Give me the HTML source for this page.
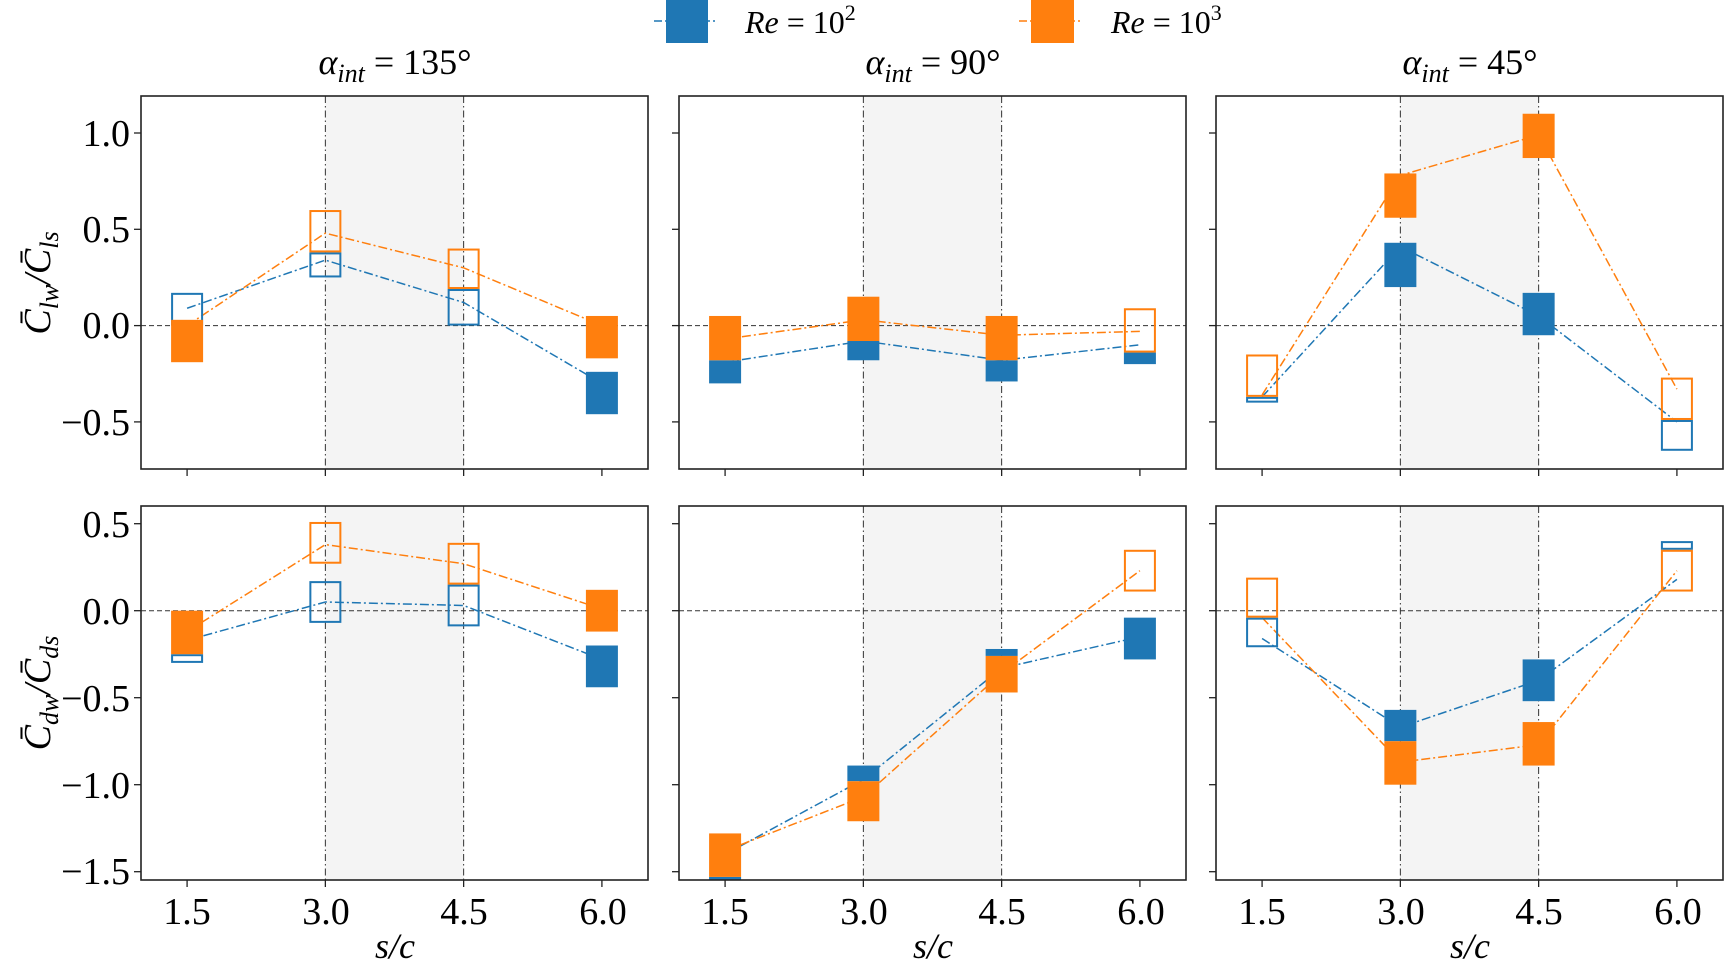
<!DOCTYPE html>
<html><head><meta charset="utf-8"><style>
html,body{margin:0;padding:0;background:#fff;}
svg{display:block;}
text{font-family:"Liberation Serif","DejaVu Serif",serif;fill:#000;}
</style></head><body>
<svg id="s" width="1725" height="960" viewBox="0 0 1725 960" xmlns="http://www.w3.org/2000/svg">
<g id="g"></g>
<!-- legend -->
<line x1="654" y1="21" x2="717" y2="21" stroke="#1f77b4" stroke-width="1.5" stroke-dasharray="8,3,2,3"/>
<rect x="666" y="0" width="42" height="43" fill="#1f77b4"/>
<text x="745" y="33" font-size="32"><tspan font-style="italic">Re</tspan> = 10<tspan font-size="22" dy="-13">2</tspan></text>
<line x1="1019" y1="21" x2="1082" y2="21" stroke="#ff7f0e" stroke-width="1.5" stroke-dasharray="8,3,2,3"/>
<rect x="1031" y="0" width="43" height="43" fill="#ff7f0e"/>
<text x="1111" y="33" font-size="32"><tspan font-style="italic">Re</tspan> = 10<tspan font-size="22" dy="-13">3</tspan></text>
<!-- titles -->
<text x="395" y="74" font-size="36" text-anchor="middle"><tspan font-style="italic">α<tspan font-size="26" dy="8">int</tspan></tspan><tspan dy="-8"> = 135°</tspan></text>
<text x="933" y="74" font-size="36" text-anchor="middle"><tspan font-style="italic">α<tspan font-size="26" dy="8">int</tspan></tspan><tspan dy="-8"> = 90°</tspan></text>
<text x="1470" y="74" font-size="36" text-anchor="middle"><tspan font-style="italic">α<tspan font-size="26" dy="8">int</tspan></tspan><tspan dy="-8"> = 45°</tspan></text>
<!-- y tick labels top -->
<g font-size="38" text-anchor="end">
<text x="130" y="146">1.0</text><text x="130" y="242">0.5</text><text x="130" y="338">0.0</text><text x="130" y="435">−0.5</text>
<text x="130" y="537">0.5</text><text x="130" y="624">0.0</text><text x="130" y="711">−0.5</text><text x="130" y="798">−1.0</text><text x="130" y="884">−1.5</text>
</g>
<!-- x tick labels -->
<g font-size="38" text-anchor="middle" id="xl">
<text x="187" y="924">1.5</text><text x="326" y="924">3.0</text><text x="464" y="924">4.5</text><text x="603" y="924">6.0</text>
<text x="725" y="924">1.5</text><text x="864" y="924">3.0</text><text x="1002" y="924">4.5</text><text x="1141" y="924">6.0</text>
<text x="1262" y="924">1.5</text><text x="1401" y="924">3.0</text><text x="1539" y="924">4.5</text><text x="1678" y="924">6.0</text>
</g>
<g font-size="36" text-anchor="middle" font-style="italic">
<text x="395" y="958">s/c</text><text x="933" y="958">s/c</text><text x="1470" y="958">s/c</text>
</g>
<text transform="translate(50,283) rotate(-90)" font-size="38" text-anchor="middle" font-style="italic">C̄<tspan font-size="26" dy="8">lw</tspan><tspan dy="-8">/C̄</tspan><tspan font-size="26" dy="8">ls</tspan></text>
<text transform="translate(50,693) rotate(-90)" font-size="38" text-anchor="middle" font-style="italic">C̄<tspan font-size="26" dy="8">dw</tspan><tspan dy="-8">/C̄</tspan><tspan font-size="26" dy="8">ds</tspan></text>
</svg>
<script>
var B="#1f77b4",O="#ff7f0e";
var cols=[141,679,1216],W=507;
var rows=[{t:96,b:469,y0:325.6,k:192.6},{t:506,b:880,y0:610.7,k:174}];
var h='';
function X(c,v){return cols[c]+(v-1)*W/5.5;}
// [row,col, lines{b:[],o:[]}, boxes [x,top,bot,color,filled]]
var P=[
[0,0,[.09,.34,.12,-.3],[0,.48,.3,0],[[1.5,.17,0,B,0],[3,.38,.25,B,0],[4.5,.19,0,B,0],[6,-.24,-.46,B,1],[1.5,.03,-.19,O,1],[3,.6,.38,O,0],[4.5,.4,.19,O,0],[6,.05,-.17,O,1]]],
[0,1,[-.19,-.08,-.18,-.1],[-.07,.03,-.05,-.03],[[1.5,-.18,-.3,B,1],[3,-.08,-.18,B,1],[4.5,-.18,-.29,B,1],[6,-.14,-.2,B,1],[1.5,.05,-.18,O,1],[3,.15,-.08,O,1],[4.5,.05,-.18,O,1],[6,.09,-.14,O,0]]],
[0,2,[-.37,.41,.05,-.5],[-.36,.78,.99,-.33],[[1.5,-.37,-.4,B,0],[3,.43,.2,B,1],[4.5,.17,-.05,B,1],[6,-.49,-.65,B,0],[1.5,-.15,-.37,O,0],[3,.79,.56,O,1],[4.5,1.1,.87,O,1],[6,-.27,-.49,O,0]]],
[1,0,[-.17,.05,.03,-.28],[-.12,.38,.27,.01],[[1.5,-.25,-.3,B,0],[3,.17,-.07,B,0],[4.5,.15,-.09,B,0],[6,-.2,-.44,B,1],[1.5,0,-.25,O,1],[3,.51,.27,O,0],[4.5,.39,.15,O,0],[6,.12,-.12,O,1]]],
[1,1,[-1.4,-.97,-.33,-.15],[-1.38,-1.07,-.36,.23],[[1.5,-1.53,-1.55,B,1],[3,-.89,-.98,B,1],[4.5,-.22,-.26,B,1],[6,-.04,-.28,B,1],[1.5,-1.28,-1.53,O,1],[3,-.98,-1.21,O,1],[4.5,-.26,-.47,O,1],[6,.35,.11,O,0]]],
[1,2,[-.16,-.67,-.4,.18],[-.04,-.87,-.77,.23],[[1.5,-.04,-.21,B,0],[3,-.57,-.75,B,1],[4.5,-.28,-.52,B,1],[6,.4,.35,B,0],[1.5,.19,-.04,O,0],[3,-.75,-1,O,1],[4.5,-.64,-.89,O,1],[6,.35,.11,O,0]]]
];
var xs=[1.5,3,4.5,6];
P.forEach(function(p){
 var r=rows[p[0]],c=p[1];function Y(v){return r.y0-v*r.k;}
 h+='<rect x="'+X(c,3)+'" y="'+r.t+'" width="'+(X(c,4.5)-X(c,3))+'" height="'+(r.b-r.t)+'" fill="#f4f4f4"/>';
 [3,4.5].forEach(function(v){h+='<line x1="'+X(c,v)+'" x2="'+X(c,v)+'" y1="'+r.t+'" y2="'+r.b+'" stroke="#333" stroke-width="1" stroke-dasharray="7,3,1.5,3"/>';});
 h+='<line x1="'+cols[c]+'" x2="'+(cols[c]+W)+'" y1="'+r.y0+'" y2="'+r.y0+'" stroke="#333" stroke-width="1" stroke-dasharray="5,3"/>';
 [[p[2],B],[p[3],O]].forEach(function(s){h+='<polyline fill="none" stroke="'+s[1]+'" stroke-width="1.5" stroke-dasharray="9,3,2,3" points="'+xs.map(function(x,i){return X(c,x)+','+Y(s[0][i]);}).join(' ')+'"/>';});
 p[4].forEach(function(b){var x=X(c,b[0])-16,y=Y(b[1]),hh=Y(b[2])-y;
  h+=b[4]?'<rect x="'+x+'" y="'+y+'" width="32" height="'+hh+'" fill="'+b[3]+'"/>':'<rect x="'+(x+1)+'" y="'+(y+1)+'" width="30" height="'+(hh-2)+'" fill="none" stroke="'+b[3]+'" stroke-width="2"/>';});
 h+='<rect x="'+cols[c]+'" y="'+r.t+'" width="'+W+'" height="'+(r.b-r.t)+'" fill="none" stroke="#222" stroke-width="1.6"/>';
 xs.forEach(function(x){h+='<line x1="'+X(c,x)+'" x2="'+X(c,x)+'" y1="'+r.b+'" y2="'+(r.b+7)+'" stroke="#222" stroke-width="1.3"/>';});
 var tk=p[0]?[.5,0,-.5,-1,-1.5]:[1,.5,0,-.5];
 tk.forEach(function(v){h+='<line x1="'+(cols[c]-7)+'" x2="'+cols[c]+'" y1="'+Y(v)+'" y2="'+Y(v)+'" stroke="#222" stroke-width="1.3"/>';});
});
document.getElementById('g').innerHTML=h;
</script>
</body></html>
